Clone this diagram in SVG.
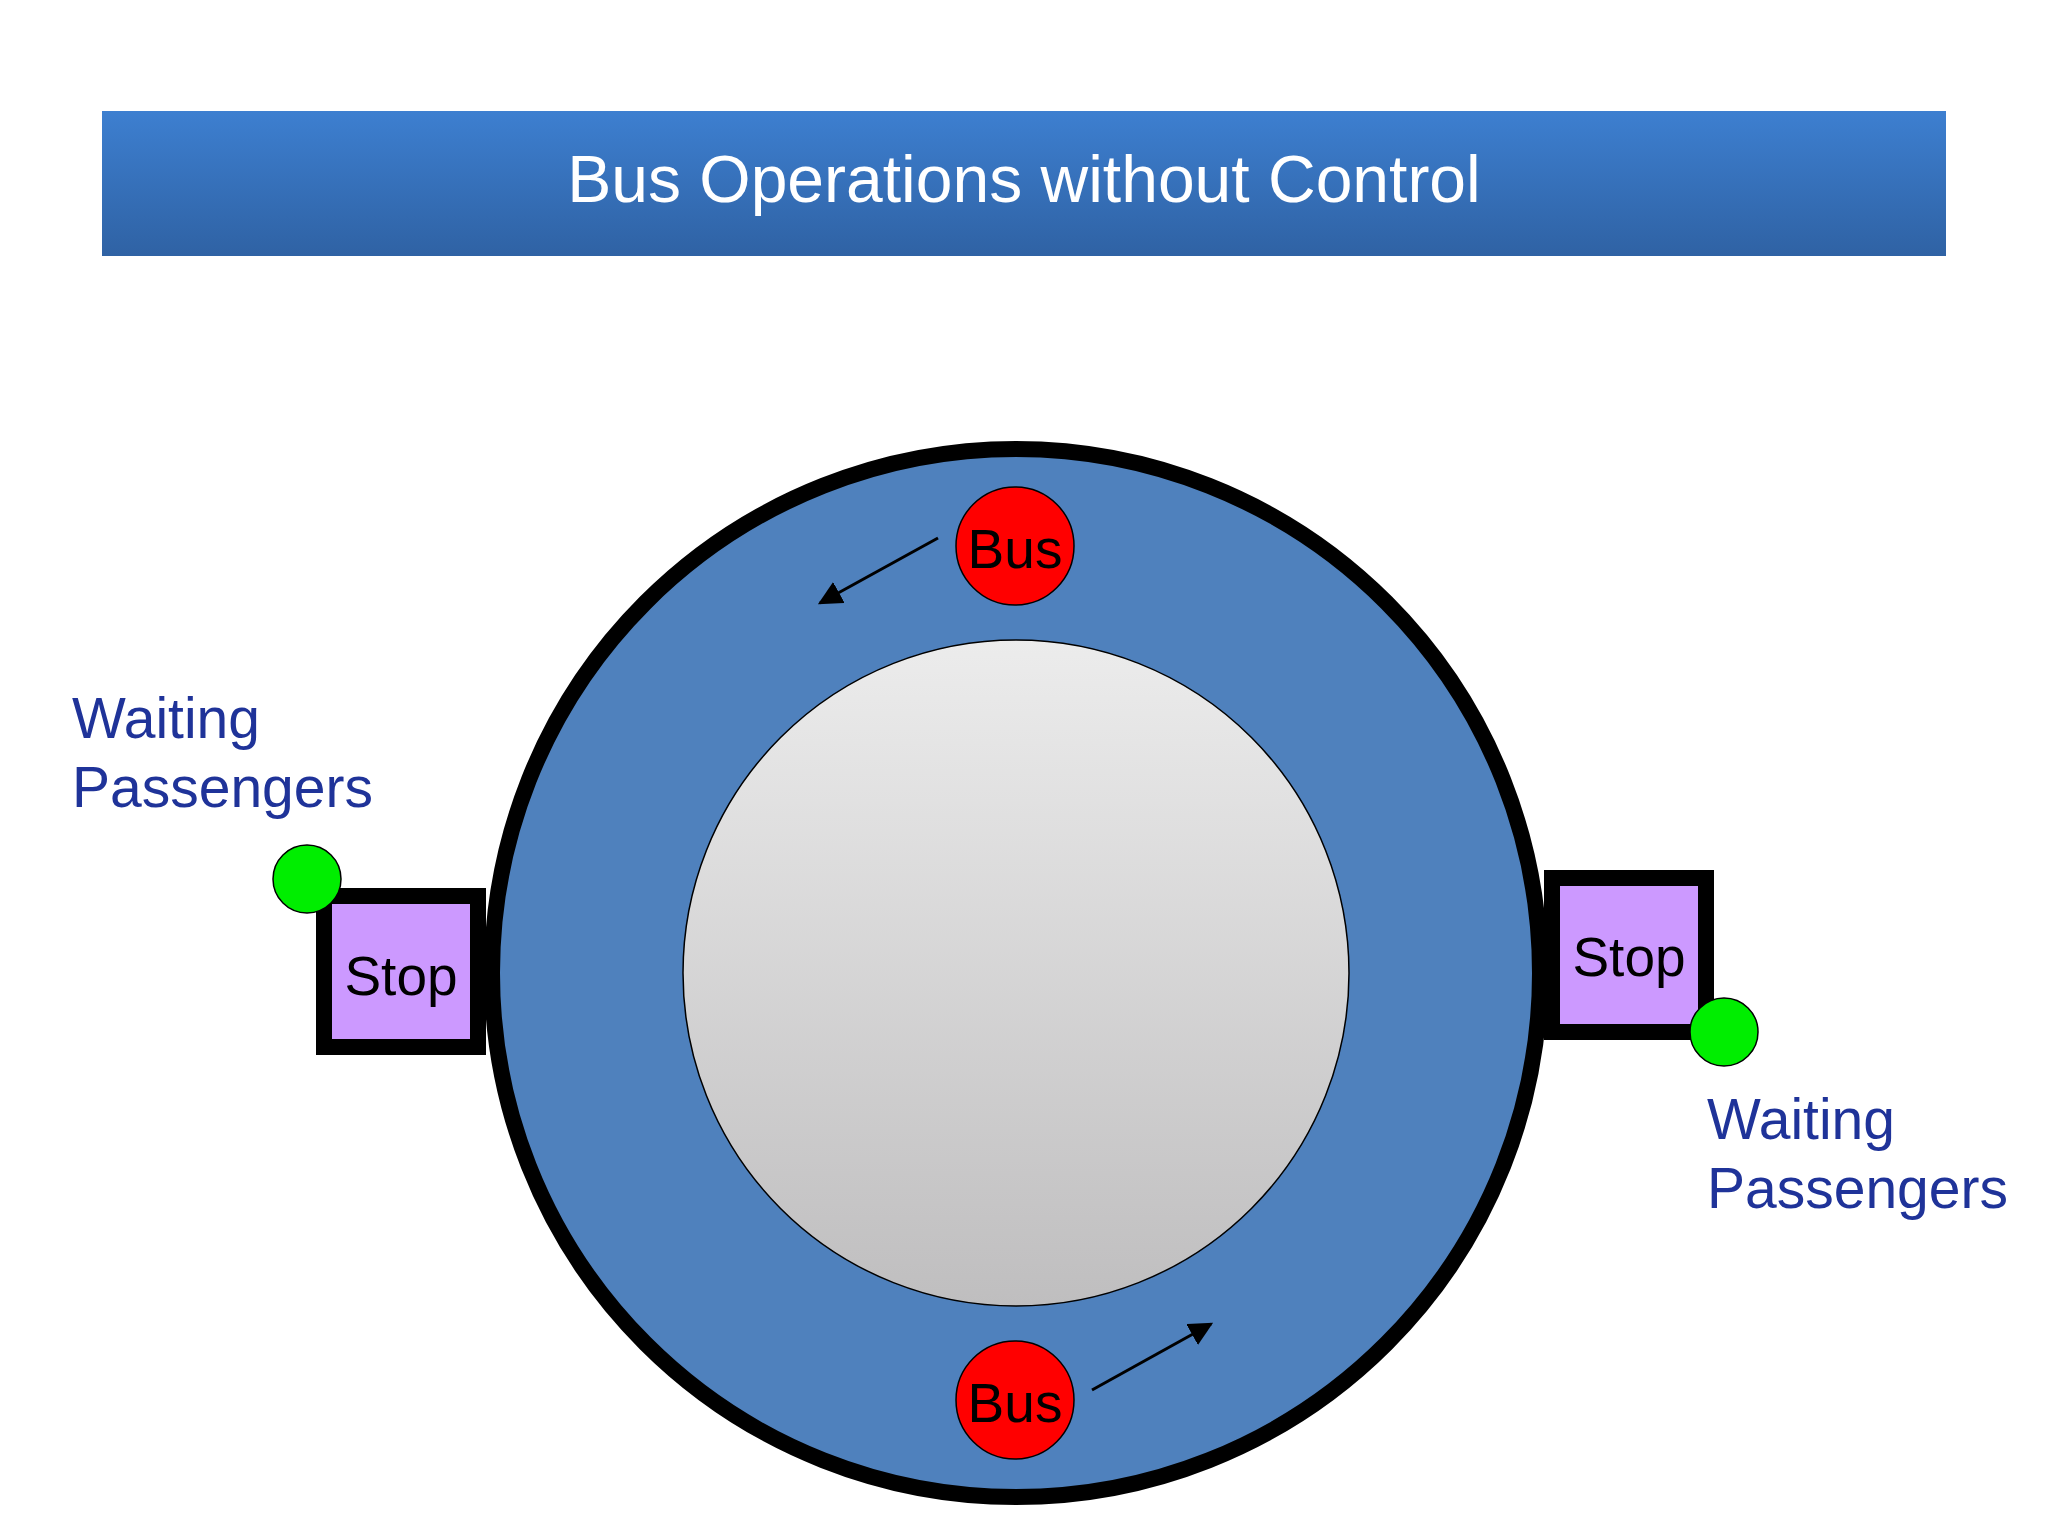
<svg xmlns="http://www.w3.org/2000/svg" width="2048" height="1536" viewBox="0 0 2048 1536">
<defs>
<linearGradient id="tg" x1="0" y1="0" x2="0" y2="1"><stop offset="0" stop-color="#3d7fd0"/><stop offset="1" stop-color="#2f62a4"/></linearGradient>
<linearGradient id="ig" x1="0" y1="0" x2="0" y2="1"><stop offset="0" stop-color="#ececec"/><stop offset="1" stop-color="#bfbebf"/></linearGradient>
<marker id="ah" viewBox="0 0 10 10" refX="9" refY="5" markerWidth="8" markerHeight="8" orient="auto"><path d="M0,0 L10,5 L0,10 z" fill="#000"/></marker>
<style>
.t{font-family:"Liberation Sans",Arial,sans-serif}
.bus{fill:#ff0000;stroke:#000;stroke-width:1.5}
.stop{fill:#cc99ff;stroke:#000;stroke-width:16}
.pax{fill:#00ee00;stroke:#000;stroke-width:1.5}
.lbl{font-size:57px;fill:#1f3399}
.nl{font-size:55px;fill:#000;text-anchor:middle;dominant-baseline:central}
</style>
</defs>
<rect width="2048" height="1536" fill="#fff"/>
<g id="title"><rect x="102" y="111" width="1844" height="145" fill="url(#tg)"/><text class="t" x="1024" y="202" font-size="66" fill="#fff" text-anchor="middle">Bus Operations without Control</text></g>
<g id="ring"><circle cx="1016" cy="973" r="524" fill="#4f81bd" stroke="#000" stroke-width="16"/></g>
<g id="inner"><circle cx="1016" cy="973" r="333" fill="url(#ig)" stroke="#000" stroke-width="1.5"/></g>
<g id="bus1"><circle class="bus" cx="1015" cy="546" r="59"/><text class="t nl" x="1015" y="549">Bus</text></g>
<g id="bus2"><circle class="bus" cx="1015" cy="1400" r="59"/><text class="t nl" x="1015" y="1403">Bus</text></g>
<g id="stop1"><rect class="stop" x="324" y="896" width="154" height="151"/><text class="t nl" x="401" y="976">Stop</text></g>
<g id="stop2"><rect class="stop" x="1552" y="878" width="154" height="154"/><text class="t nl" x="1629" y="957">Stop</text></g>
<g id="pax1"><circle class="pax" cx="307" cy="879" r="34"/></g>
<g id="pax2"><circle class="pax" cx="1724" cy="1032" r="34"/></g>
<g id="label1"><text class="t lbl" x="72" y="738">Waiting</text><text class="t lbl" x="72" y="807">Passengers</text></g>
<g id="label2"><text class="t lbl" x="1707" y="1139">Waiting</text><text class="t lbl" x="1707" y="1208">Passengers</text></g>
<g id="connectors" stroke="#000" stroke-width="3">
<line x1="938" y1="538" x2="820" y2="603" marker-end="url(#ah)"/>
<line x1="1092" y1="1390" x2="1211" y2="1324" marker-end="url(#ah)"/>
</g>
</svg>
